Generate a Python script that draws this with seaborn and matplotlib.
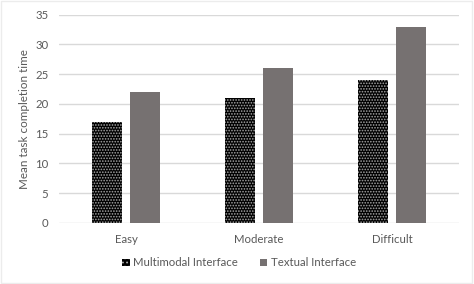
import pandas as pd
import matplotlib.pyplot as plt
import seaborn as sns
from matplotlib.patches import Rectangle

# data
levels = ['Easy', 'Moderate', 'Difficult']
multimodal = [17, 21, 24]
textual = [22, 26, 33]
series_names = ['Multimodal Interface', 'Textual Interface']

df = pd.DataFrame({
    'level': levels * 2,
    'time': multimodal + textual,
    'interface': [series_names[0]] * 3 + [series_names[1]] * 3,
})

sns.set_theme(style='white')
plt.rcParams['font.family'] = ['Lato', 'DejaVu Sans']
plt.rcParams['hatch.linewidth'] = 0.8
txt = '#595959'

fig = plt.figure(figsize=(4.74, 2.84), dpi=100)
ax = fig.add_axes([0.1255, 0.2148, 0.8418, 0.7334])

sns.barplot(data=df, x='level', y='time', hue='interface', order=levels,
            hue_order=series_names, palette=['#111111', '#767171'],
            width=0.571, gap=0.21, saturation=1, legend=False, ax=ax)

# dotted pattern on the multimodal bars
for p in ax.patches[:3]:
    p.set_facecolor('#000000')
    p.set_edgecolor('#a8a8a8')
    p.set_hatch('......')
    p.set_linewidth(0)
for p in ax.patches[3:]:
    p.set_linewidth(0)

ax.set_ylim(0, 35)
ax.set_yticks(range(0, 36, 5))
ax.set_xlim(-0.5, 2.5)
ax.yaxis.grid(True, color='#d9d9d9', linewidth=1)
ax.set_axisbelow(True)
for s in ax.spines.values():
    s.set_visible(False)
ax.tick_params(axis='both', length=0, labelsize=8.2, colors=txt)
ax.tick_params(axis='x', pad=8)
ax.tick_params(axis='y', pad=8)
ax.set_xlabel('')
ax.set_ylabel('Mean task completion time', fontsize=8.4, color=txt, labelpad=4)

# legend
h1 = Rectangle((0, 0), 1, 1, facecolor='#000000', edgecolor='#a8a8a8', hatch='....', linewidth=0)
h2 = Rectangle((0, 0), 1, 1, facecolor='#767171', linewidth=0)
fig.legend([h1, h2], series_names, loc='center', bbox_to_anchor=(0.505, 0.074),
           ncol=2, frameon=False, fontsize=8.2, labelcolor=txt,
           handlelength=0.65, handleheight=0.65, handletextpad=0.35, columnspacing=1.9)

# faint chart border
fig.patches.append(Rectangle((0.003, 0.005), 0.992, 0.99, transform=fig.transFigure,
                             fill=False, edgecolor='#ececec', linewidth=1))

fig.savefig('out.png', dpi=100)
